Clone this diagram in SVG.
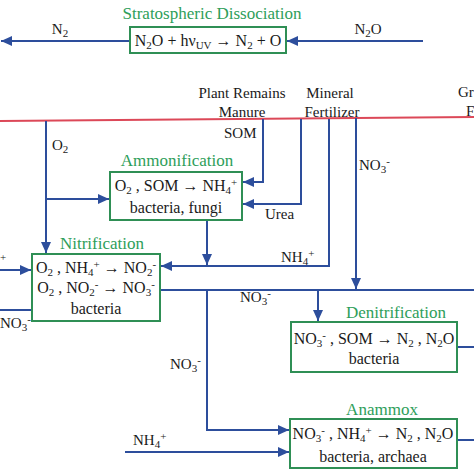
<svg xmlns="http://www.w3.org/2000/svg" width="474" height="474" viewBox="0 0 474 474">
<style>
text{font-family:"Liberation Serif","Times New Roman",serif;fill:#1a1a1a}
.lbl{font-size:15px}
.bx{font-size:16px;text-anchor:middle}
.ttl{font-size:17px;fill:#2e9e5a;text-anchor:middle}
.box{fill:#fff;stroke:#2f8f55;stroke-width:2}
.ln{fill:none;stroke:#2d4e9c;stroke-width:2}
.sb{font-size:11px}
</style>
<defs>
<marker id="ah" markerUnits="userSpaceOnUse" markerWidth="12" markerHeight="10" refX="11" refY="5" orient="auto">
<path d="M0,0 L11,5 L0,10 z" fill="#2d4e9c"/>
</marker>
</defs>
<rect width="474" height="474" fill="#fff"/>
<path d="M0,121 L474,117" stroke="#dc4858" stroke-width="2" fill="none"/>
<g id="connectors">
<path class="ln" d="M129,41 H1" marker-end="url(#ah)"/>
<path class="ln" d="M423,41 H287" marker-end="url(#ah)"/>
<path class="ln" d="M46,121 V253" marker-end="url(#ah)"/>
<path class="ln" d="M46,199 H109" marker-end="url(#ah)"/>
<path class="ln" d="M263,119 V182 H243" marker-end="url(#ah)"/>
<path class="ln" d="M301,119 V204 H243" marker-end="url(#ah)"/>
<path class="ln" d="M329,119 V266 H161" marker-end="url(#ah)"/>
<path class="ln" d="M207,221 V265" marker-end="url(#ah)"/>
<path class="ln" d="M356,118 V289" marker-end="url(#ah)"/>
<path class="ln" d="M160,290 H474"/>
<path class="ln" d="M318,290 V321" marker-end="url(#ah)"/>
<path class="ln" d="M0,270 H31" marker-end="url(#ah)"/>
<path class="ln" d="M32,310 H0"/>
<path class="ln" d="M207,290 V430 H289" marker-end="url(#ah)"/>
<path class="ln" d="M125,452 H289" marker-end="url(#ah)"/>
<path class="ln" d="M457,347 H474"/>
<path class="ln" d="M457,440 H474"/>
</g>
<g id="labels">
<text class="lbl" x="60" y="34" text-anchor="middle">N<tspan class="sb" baseline-shift="-3">2</tspan></text>
<text class="lbl" x="368" y="34" text-anchor="middle">N<tspan class="sb" baseline-shift="-3">2</tspan>O</text>
<text class="lbl" x="242" y="98" text-anchor="middle">Plant Remains</text>
<text class="lbl" x="242" y="117" text-anchor="middle">Manure</text>
<text class="lbl" x="330" y="98" text-anchor="middle">Mineral</text>
<text class="lbl" x="332" y="117" text-anchor="middle">Fertilizer</text>
<text class="lbl" x="458" y="97">Gr</text>
<text class="lbl" x="466" y="116">F</text>
<text class="lbl" x="52" y="150">O<tspan class="sb" baseline-shift="-3">2</tspan></text>
<text class="lbl" x="224" y="138">SOM</text>
<text class="lbl" x="265" y="219">Urea</text>
<text class="lbl" x="281" y="262">NH<tspan class="sb" baseline-shift="-3">4</tspan><tspan class="sb" baseline-shift="5">+</tspan></text>
<text class="lbl" x="359" y="170">NO<tspan class="sb" baseline-shift="-3">3</tspan><tspan class="sb" baseline-shift="5">-</tspan></text>
<text class="lbl" x="240" y="302">NO<tspan class="sb" baseline-shift="-3">3</tspan><tspan class="sb" baseline-shift="5">-</tspan></text>
<text class="lbl" x="170" y="369">NO<tspan class="sb" baseline-shift="-3">3</tspan><tspan class="sb" baseline-shift="5">-</tspan></text>
<text class="lbl" x="133" y="445">NH<tspan class="sb" baseline-shift="-3">4</tspan><tspan class="sb" baseline-shift="5">+</tspan></text>
<text class="sb" x="0" y="261">+</text>
<text class="lbl" x="0" y="328">NO<tspan class="sb" baseline-shift="-3">3</tspan><tspan class="sb" baseline-shift="5">-</tspan></text>
</g>
<g id="stratospheric">
<text class="ttl" x="212" y="19">Stratospheric Dissociation</text>
<rect class="box" x="130" y="27" width="156" height="26"/>
<text class="bx" x="208" y="46">N<tspan class="sb" baseline-shift="-3">2</tspan>O + hν<tspan class="sb" baseline-shift="-3">UV</tspan> → N<tspan class="sb" baseline-shift="-3">2</tspan> + O</text>
</g>
<g id="ammonification">
<text class="ttl" x="177" y="166">Ammonification</text>
<rect class="box" x="110" y="172" width="132" height="48"/>
<text class="bx" x="176" y="191">O<tspan class="sb" baseline-shift="-3">2</tspan> , SOM → NH<tspan class="sb" baseline-shift="-3">4</tspan><tspan class="sb" baseline-shift="5">+</tspan></text>
<text class="bx" x="176" y="213">bacteria, fungi</text>
</g>
<g id="nitrification">
<text class="ttl" x="102" y="249">Nitrification</text>
<rect class="box" x="32" y="254" width="128" height="67"/>
<text class="bx" x="96" y="273">O<tspan class="sb" baseline-shift="-3">2</tspan> , NH<tspan class="sb" baseline-shift="-3">4</tspan><tspan class="sb" baseline-shift="5">+</tspan> → NO<tspan class="sb" baseline-shift="-3">2</tspan><tspan class="sb" baseline-shift="5">-</tspan></text>
<text class="bx" x="96" y="293">O<tspan class="sb" baseline-shift="-3">2</tspan> , NO<tspan class="sb" baseline-shift="-3">2</tspan><tspan class="sb" baseline-shift="5">-</tspan> → NO<tspan class="sb" baseline-shift="-3">3</tspan><tspan class="sb" baseline-shift="5">-</tspan></text>
<text class="bx" x="96" y="314">bacteria</text>
</g>
<g id="denitrification">
<text class="ttl" x="396" y="318">Denitrification</text>
<rect class="box" x="291" y="322" width="166" height="50"/>
<text class="bx" x="374" y="344">NO<tspan class="sb" baseline-shift="-3">3</tspan><tspan class="sb" baseline-shift="5">-</tspan> , SOM → N<tspan class="sb" baseline-shift="-3">2</tspan> , N<tspan class="sb" baseline-shift="-3">2</tspan>O</text>
<text class="bx" x="374" y="364">bacteria</text>
</g>
<g id="anammox">
<text class="ttl" x="382" y="415">Anammox</text>
<rect class="box" x="290" y="419" width="167" height="49"/>
<text class="bx" x="373" y="439">NO<tspan class="sb" baseline-shift="-3">3</tspan><tspan class="sb" baseline-shift="5">-</tspan> , NH<tspan class="sb" baseline-shift="-3">4</tspan><tspan class="sb" baseline-shift="5">+</tspan> → N<tspan class="sb" baseline-shift="-3">2</tspan> , N<tspan class="sb" baseline-shift="-3">2</tspan>O</text>
<text class="bx" x="373" y="462">bacteria, archaea</text>
</g>
</svg>
